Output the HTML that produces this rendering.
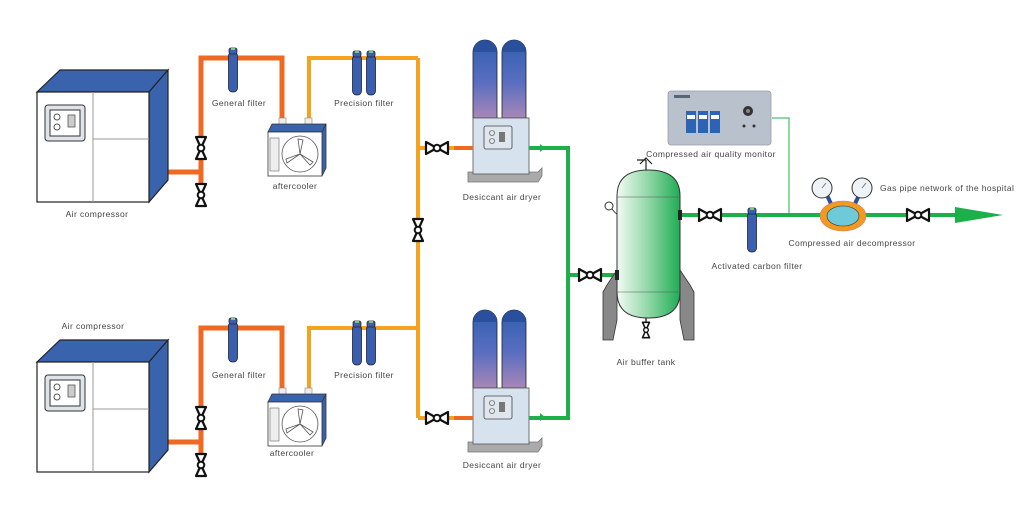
<!DOCTYPE html>
<html><head><meta charset="utf-8"><style>
html,body{margin:0;padding:0;background:#fff;}
svg{display:block;}
text{font-family:"Liberation Sans",sans-serif;font-size:8.5px;fill:#444;letter-spacing:0.4px;}
</style></head><body>
<svg width="1024" height="516" viewBox="0 0 1024 516" xmlns="http://www.w3.org/2000/svg">
<defs>
<linearGradient id="cyl" x1="0" y1="0" x2="0" y2="1">
<stop offset="0" stop-color="#2f5fb0"/><stop offset="0.55" stop-color="#5a6ec0"/><stop offset="1" stop-color="#a887b8"/></linearGradient>
<linearGradient id="tank" x1="0" y1="0" x2="1" y2="0">
<stop offset="0" stop-color="#f2fbf4"/><stop offset="0.5" stop-color="#8fd7a6"/><stop offset="1" stop-color="#20ac55"/></linearGradient>
<g id="vv"><path d="M-5,-11 L5,-11 L0,0 Z M-5,11 L5,11 L0,0 Z" fill="#fff" stroke="#111" stroke-width="2.2" stroke-linejoin="round"/><circle cx="0" cy="0" r="3.3" fill="#fff" stroke="#111" stroke-width="2"/></g>
<g id="hv"><path d="M-11,-6 L-11,6 L0,0 Z M11,-6 L11,6 L0,0 Z" fill="#fff" stroke="#111" stroke-width="2.2" stroke-linejoin="round"/><circle cx="0" cy="0" r="3.3" fill="#fff" stroke="#111" stroke-width="2"/></g>
<g id="filt"><rect x="-4.5" y="-18" width="9" height="40" rx="4" fill="#3a5fae" stroke="#223" stroke-width="0.8"/><rect x="-4" y="-22" width="8" height="6" rx="2" fill="#3a5fae" stroke="#223" stroke-width="0.8"/><rect x="-2" y="-22" width="4" height="2" fill="#7c7"/></g>
<g id="group">
 <!-- pipes -->
 <path d="M160,172 H201 M201,205 V58 H282 V124" fill="none" stroke="#ee6a22" stroke-width="5"/>
 <path d="M309,124 V58 H418" fill="none" stroke="#f5a21e" stroke-width="4"/>
 <!-- compressor -->
 <path d="M37,92 L60,70 L168,70 L149,92 Z" fill="#3a63ad" stroke="#222" stroke-width="1.2"/>
 <path d="M149,92 L168,70 L168,180 L149,202 Z" fill="#3a63ad" stroke="#222" stroke-width="1.2"/>
 <rect x="37" y="92" width="112" height="110" fill="#fff" stroke="#222" stroke-width="1.2"/>
 <path d="M93,92 V202 M93,139 H149" stroke="#999" stroke-width="1"/>
 <rect x="45" y="105" width="40" height="36" rx="3" fill="#dfe3ea" stroke="#333" stroke-width="1"/>
 <rect x="50" y="110" width="30" height="26" fill="#fff" stroke="#333" stroke-width="1"/>
 <circle cx="57" cy="117" r="3" fill="none" stroke="#555"/><circle cx="57" cy="127" r="3" fill="none" stroke="#555"/>
 <rect x="68" y="115" width="7" height="12" fill="#ccc" stroke="#555" stroke-width="0.8"/>
 <use href="#vv" x="201" y="148"/><use href="#vv" x="201" y="195"/>
 <use href="#filt" x="233" y="70"/>
 <use href="#filt" x="357" y="73"/><use href="#filt" x="371" y="73"/>
 <!-- aftercooler -->
 <rect x="279" y="118" width="7" height="8" fill="#eee" stroke="#888" stroke-width="0.6"/>
 <rect x="305" y="118" width="7" height="8" fill="#eee" stroke="#888" stroke-width="0.6"/>
 <path d="M268,132 L272,124 L326,124 L322,132 Z" fill="#3a63ad" stroke="#333" stroke-width="0.8"/>
 <path d="M322,132 L326,124 L326,168 L322,176 Z" fill="#3a63ad" stroke="#333" stroke-width="0.8"/>
 <rect x="268" y="132" width="54" height="44" fill="#fff" stroke="#333" stroke-width="0.8"/>
 <rect x="270" y="138" width="9" height="33" fill="#eee" stroke="#666" stroke-width="0.6"/>
 <circle cx="300" cy="154" r="18" fill="#fff" stroke="#555" stroke-width="0.8"/>
 <path d="M300,154 L298,139 L303,140 Z M300,154 L313,162 L310,165 Z M300,154 L287,163 L286,159 Z" fill="#fff" stroke="#555" stroke-width="0.8"/>
 <!-- dryer -->
 <path d="M473,118 V52 a12,12 0 0 1 24,0 V118 Z" fill="url(#cyl)" stroke="#222" stroke-width="0.8"/>
 <path d="M502,118 V52 a12,12 0 0 1 24,0 V118 Z" fill="url(#cyl)" stroke="#222" stroke-width="0.8"/>
 <path d="M473,52 a12,12 0 0 1 24,0 Z M502,52 a12,12 0 0 1 24,0 Z" fill="#2a4f9c"/>
 <path d="M468,172 H538 L542,168 V176 L538,182 H468 Z" fill="#aaa" stroke="#777" stroke-width="0.8"/>
 <rect x="473" y="118" width="56" height="56" fill="#d6e2ee" stroke="#555" stroke-width="0.8"/>
 <rect x="484" y="126" width="28" height="23" rx="2" fill="#dfe6ee" stroke="#444" stroke-width="0.8"/>
 <circle cx="492" cy="133" r="2.5" fill="none" stroke="#444" stroke-width="0.6"/><circle cx="492" cy="141" r="2.5" fill="none" stroke="#444" stroke-width="0.6"/>
 <rect x="499" y="132" width="6" height="10" fill="#777"/>
 <path d="M418,148 H473" stroke="#f5a21e" stroke-width="4"/>
 <path d="M454,148 H473" stroke="#ee6a22" stroke-width="4"/>
 <use href="#hv" x="437" y="148"/>
</g>
</defs>

<use href="#group"/>
<use href="#group" y="270"/>

<!-- vertical yellow trunk -->
<path d="M418,58 V418" stroke="#f5a21e" stroke-width="4"/>
<use href="#vv" x="418" y="230"/>

<!-- green pipes -->
<path d="M529,148 H568 V418 H529 M568,275 H617" fill="none" stroke="#1db04a" stroke-width="4"/>
<path d="M540,144 L545,148 L540,152 Z M540,413 L545,417 L540,421 Z" fill="#1db04a"/>
<use href="#hv" x="590" y="275"/>
<path d="M680,215 H958" stroke="#1db04a" stroke-width="4"/>
<path d="M955,207 L1003,215 L955,223 Z" fill="#1db04a"/>
<path d="M772,118 H789 V215" fill="none" stroke="#1db04a" stroke-width="1"/>

<!-- tank -->
<path d="M607,285 L617,270 V320 L613,340 H603 V292 Z" fill="#888" stroke="#333" stroke-width="0.8"/>
<path d="M690,285 L680,270 V320 L684,340 H694 V292 Z" fill="#888" stroke="#333" stroke-width="0.8"/>
<path d="M646,172 V160 M640,164 L646,158 L652,164 M637,160 H646" stroke="#222" stroke-width="1.2" fill="none"/>
<path d="M617,196 Q617,170 648,170 Q680,170 680,196 V292 Q680,318 648,318 Q617,318 617,292 Z" fill="url(#tank)" stroke="#333" stroke-width="1"/>
<path d="M617,197 H680 M617,292 H680" stroke="#555" stroke-width="0.6"/>
<circle cx="609" cy="206" r="4" fill="#fff" stroke="#333" stroke-width="1"/>
<path d="M612,209 Q616,214 617,214" stroke="#333" fill="none"/>
<rect x="678" y="210" width="4" height="10" fill="#222"/>
<rect x="615" y="270" width="4" height="10" fill="#222"/>
<g transform="translate(646,330) scale(0.7)"><use href="#vv"/></g>
<path d="M646,318 V322" stroke="#333" stroke-width="1.5"/>

<use href="#hv" x="710" y="215"/>
<use href="#hv" x="918" y="215"/>
<use href="#filt" x="752" y="230"/>

<!-- monitor -->
<rect x="668" y="91" width="103" height="54" rx="3" fill="#b9c2cc" stroke="#99a" stroke-width="0.8"/>
<rect x="674" y="95" width="16" height="3" fill="#567"/>
<rect x="686" y="111" width="10" height="22" fill="#2d63b5"/><rect x="698" y="111" width="10" height="22" fill="#2d63b5"/><rect x="710" y="111" width="10" height="22" fill="#2d63b5"/>
<rect x="687" y="115" width="8" height="4" fill="#fff"/><rect x="699" y="115" width="8" height="4" fill="#fff"/><rect x="711" y="115" width="8" height="4" fill="#fff"/>
<circle cx="748" cy="111" r="5" fill="#333"/><circle cx="748" cy="111" r="2" fill="#888"/>
<circle cx="744" cy="126" r="1.5" fill="#333"/><circle cx="754" cy="126" r="1.5" fill="#333"/>

<!-- decompressor -->
<path d="M832,206 L826,193 M854,206 L860,193" stroke="#2a4f9c" stroke-width="4"/>
<circle cx="822" cy="188" r="10" fill="#eef3f8" stroke="#333" stroke-width="1"/>
<circle cx="862" cy="188" r="10" fill="#eef3f8" stroke="#333" stroke-width="1"/>
<path d="M822,188 L826,183 M862,188 L866,183" stroke="#777"/>
<ellipse cx="843" cy="216" rx="23" ry="15" fill="#f39a1e" stroke="#c77" stroke-width="0.6"/>
<ellipse cx="843" cy="216" rx="16" ry="10" fill="#6ec9d8" stroke="#333" stroke-width="0.6"/>

<!-- labels -->
<text x="97" y="217" text-anchor="middle">Air compressor</text>
<text x="93" y="329" text-anchor="middle">Air compressor</text>
<text x="239" y="106" text-anchor="middle">General filter</text>
<text x="239" y="378" text-anchor="middle">General filter</text>
<text x="364" y="106" text-anchor="middle">Precision filter</text>
<text x="364" y="378" text-anchor="middle">Precision filter</text>
<text x="295" y="189" text-anchor="middle">aftercooler</text>
<text x="292" y="456" text-anchor="middle">aftercooler</text>
<text x="502" y="200" text-anchor="middle">Desiccant air dryer</text>
<text x="502" y="468" text-anchor="middle">Desiccant air dryer</text>
<text x="646" y="365" text-anchor="middle">Air buffer tank</text>
<text x="711" y="157" text-anchor="middle">Compressed air quality monitor</text>
<text x="757" y="269" text-anchor="middle">Activated carbon filter</text>
<text x="852" y="246" text-anchor="middle">Compressed air decompressor</text>
<text x="880" y="191">Gas pipe network of the hospital</text>
</svg>
</body></html>
